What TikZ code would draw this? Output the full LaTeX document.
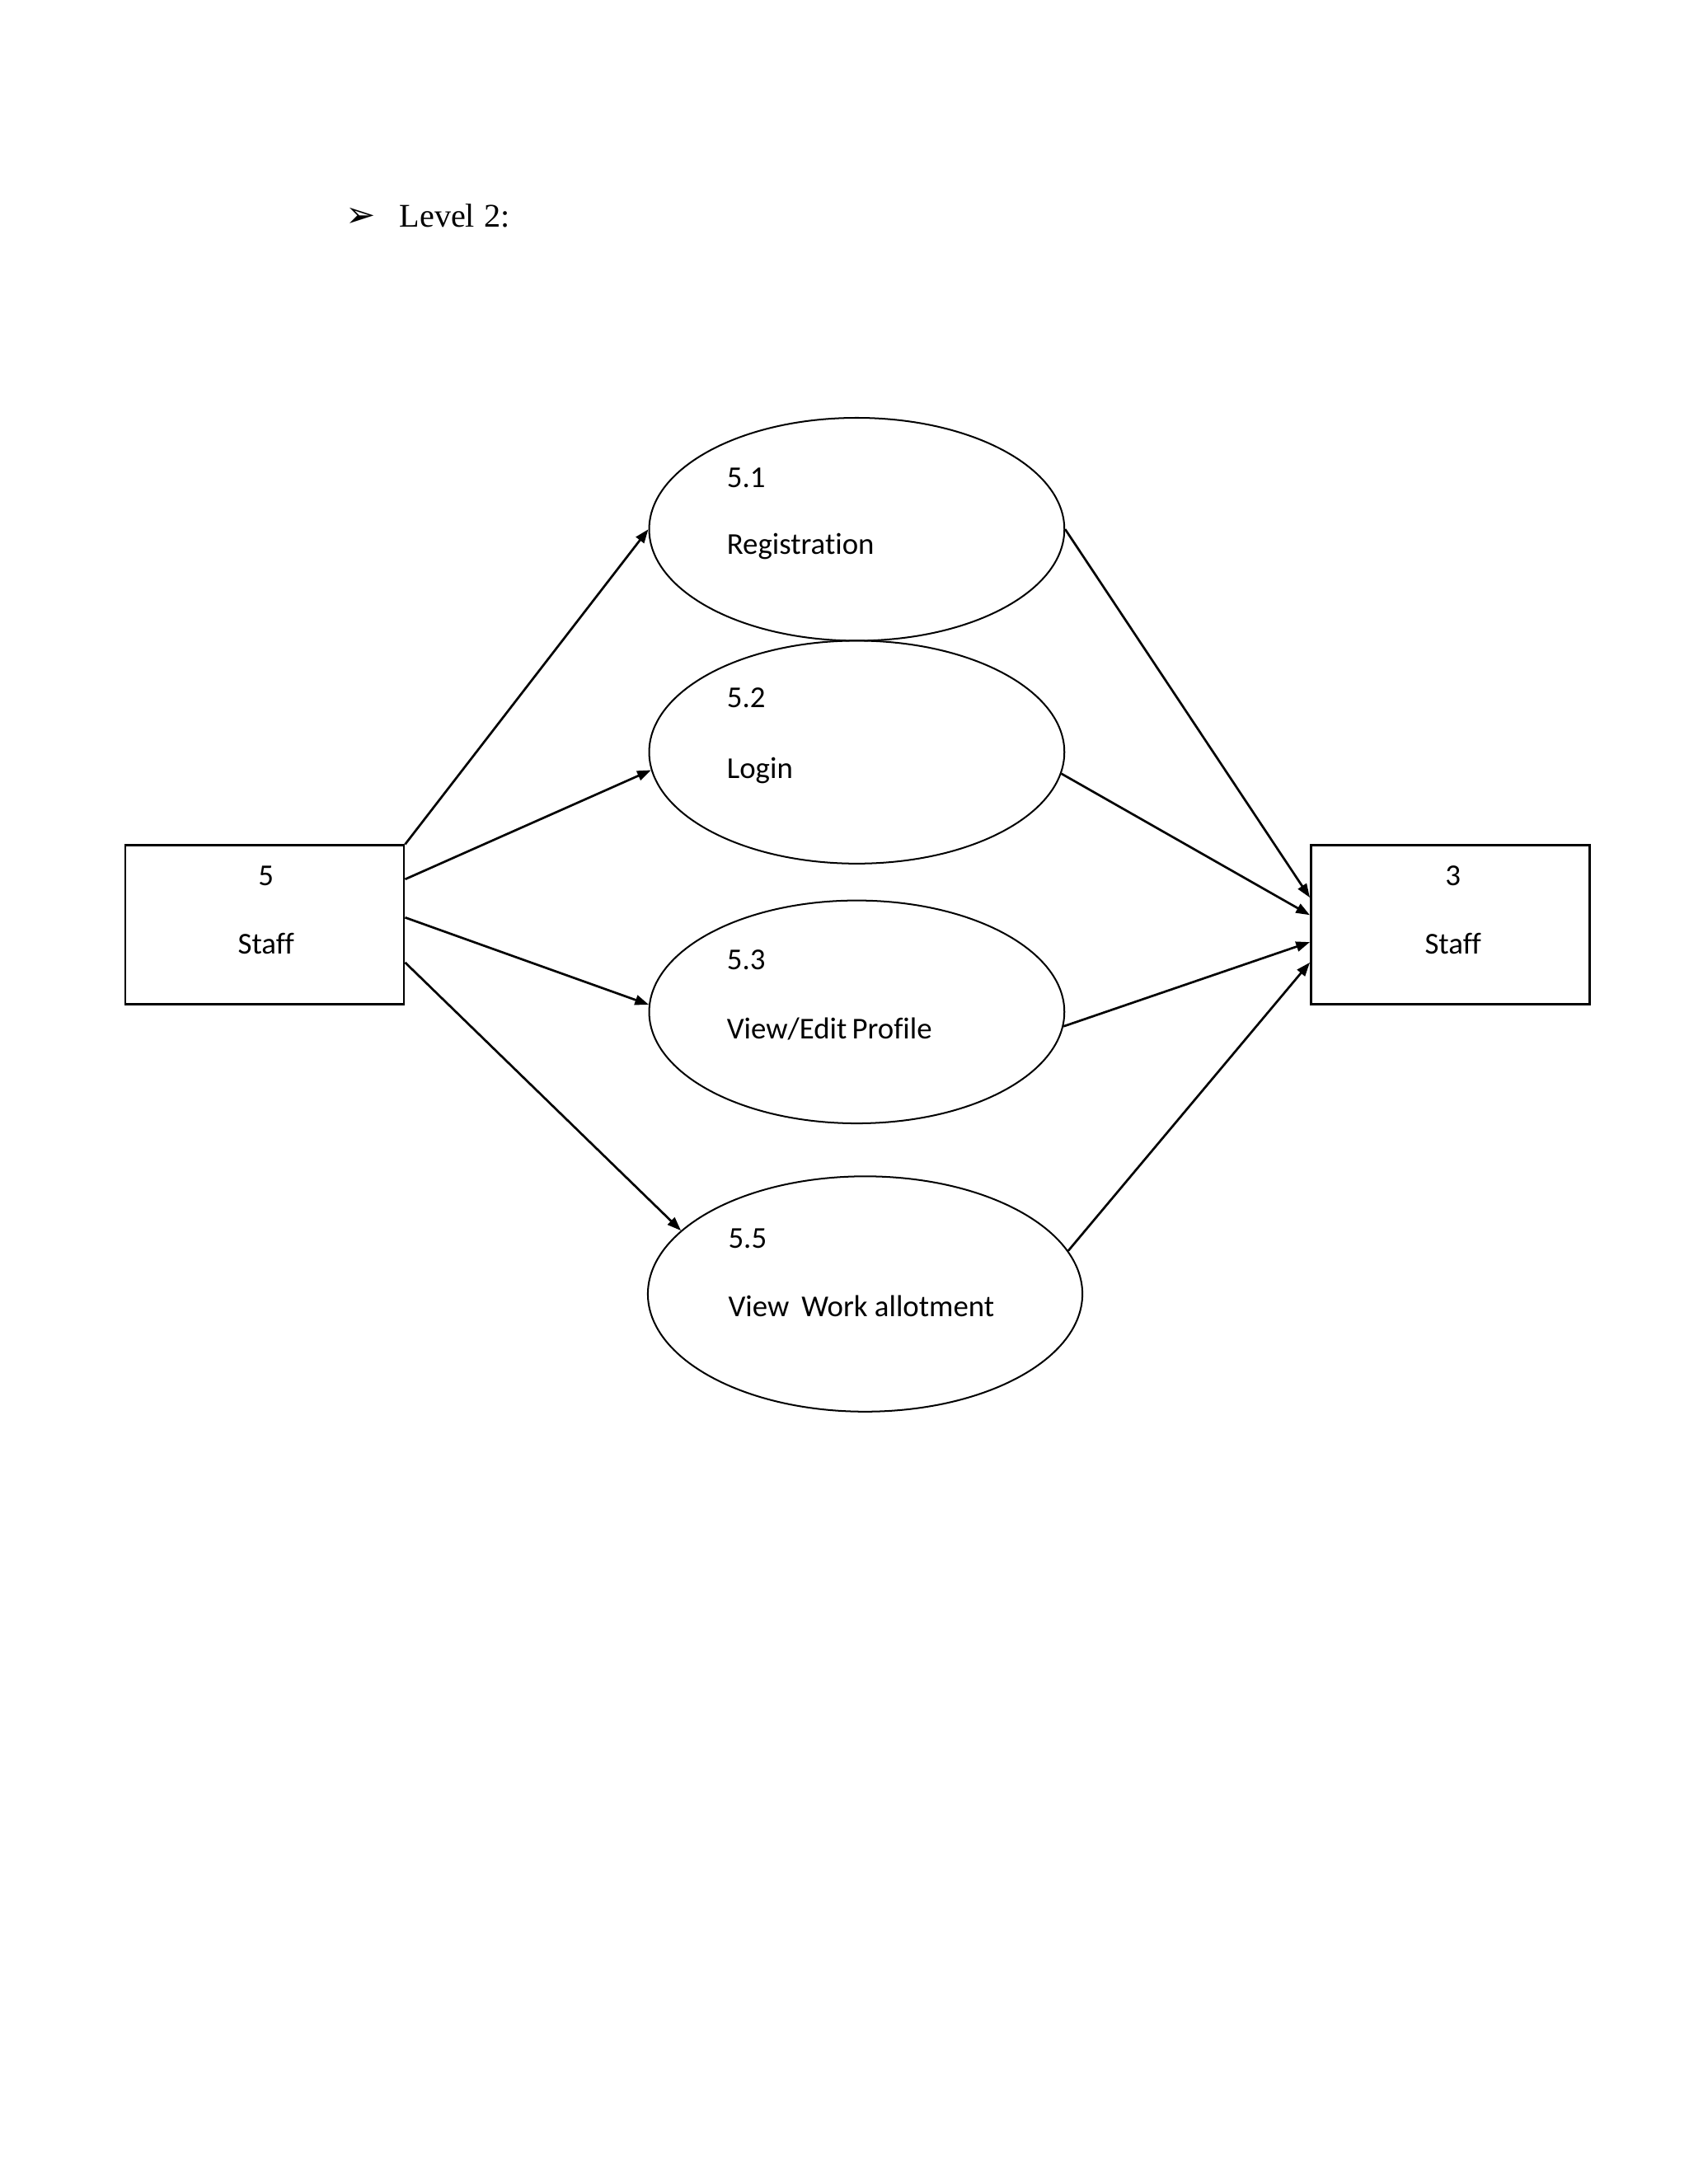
\documentclass[tikz,border=0pt]{standalone}
\usepackage{fontspec}
\setmainfont{Carlito}[Ligatures=NoCommon]
\newfontfamily\headfont{Liberation Serif}
\newfontfamily\symfont{DejaVu Sans}
\usetikzlibrary{arrows.meta,shapes.geometric}

\begin{document}
\begin{tikzpicture}[x=0.50495pt,y=-0.50495pt,>={Triangle[length=5pt,width=3.6pt]},
   font=\fontsize{11}{13}\selectfont,line width=0.8pt,
   entity/.style={draw,rectangle,minimum width=101pt,minimum height=57.6pt,inner sep=0pt},
   process/.style={draw,ellipse,line width=0.6pt,minimum width=150.5pt,minimum height=80.8pt,inner sep=0pt},
   txt/.style={anchor=base west,inner sep=0pt},
   ctxt/.style={anchor=base,inner sep=0pt}]
  \useasboundingbox (0,0) rectangle (1212,1568);
  % heading
  \node[ctxt,font=\symfont\fontsize{13}{15}\selectfont] (bullet) at (259,163) {➢};
  \node[txt,font=\headfont\fontsize{12}{14}\selectfont] (head) at (286,163) {Level\hspace{3.5pt}2:};
  % external entities: staff on both sides
  \node[entity] (ent5) at (190,664) {};
  \node[ctxt] (ent5num) at (191,636) {5};
  \node[ctxt] (ent5name) at (191,685) {Staff};
  \node[entity] (ent3) at (1041,664) {};
  \node[ctxt] (ent3num) at (1043,636) {3};
  \node[ctxt] (ent3name) at (1043,685) {Staff};
  % processes, text sits left of centre
  \node[process] (e51) at (615,380) {};
  \node[txt] (e51num) at (521,350) {5.1};
  \node[txt] (e51name) at (521,398) {Registration};
  \node[process] (e52) at (615,540) {};
  \node[txt] (e52num) at (521,508) {5.2};
  \node[txt] (e52name) at (521,559) {Login};
  \node[process] (e53) at (615,726.5) {};
  \node[txt] (e53num) at (521,696) {5.3};
  \node[txt] (e53name) at (521,746) {View/Edit\,Profile};
  \node[process,minimum width=157.5pt,minimum height=85.3pt] (e55) at (621,929) {};
  \node[txt] (e55num) at (522,896) {5.5};
  \node[txt] (e55name) at (522,945) {View\hspace{4.5pt}Work allotment};
  % flows out of staff 5
  \draw[->] (ent5.north east) -- (e51.west);
  \draw[->] (ent5.18) -- (e52.185);
  \draw[->] (ent5.3) -- (e53.178);
  \draw[->] (ent5.-15) -- (e55.161);
  % flows into staff 3
  \draw[->] (e51.east) -- (ent3.169);
  \draw[->] (e52.-6) -- (ent3.176);
  \draw[->] (e53.-4) -- (ent3.187);
  \draw[->] (e55.12) -- (ent3.195);
\end{tikzpicture}
\end{document}
